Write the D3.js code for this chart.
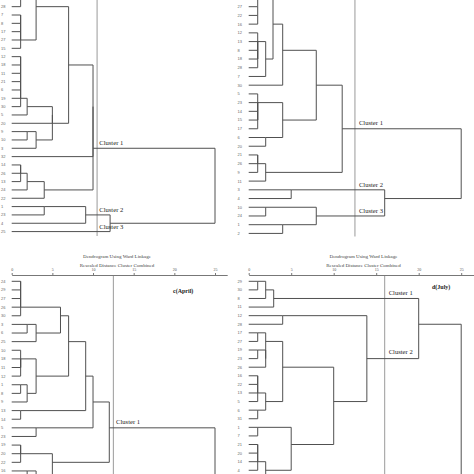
<!DOCTYPE html>
<meta charset="utf-8">
<title>Dendrogram Using Ward Linkage</title>
<style>
body { margin: 0; background: #fff; }
.link { stroke: #505050; stroke-width: 1; }
.cut { stroke: #9a9a9a; stroke-width: 1; }
.leaf { font: 4px "Liberation Sans", sans-serif; fill: #666; }
.clab { font: 6.6px "Liberation Serif", serif; fill: #222; }
.title { font: 5px "Liberation Serif", serif; fill: #444; text-anchor: middle; }
.month { font: bold 6px "Liberation Serif", serif; fill: #222; }
.axis text { font: 4px "Liberation Serif", serif; fill: #555; }
.axis path, .axis line { stroke: #777; }
</style>
<body>
<svg width="474" height="474"></svg>
<script src="https://d3js.org/d3.v7.min.js"></script>
<script>

// leaf order top to bottom; *Top is the row of the first label (rows above 0 are cropped)
var tlLabels = ["31","16","29","2","28","7","8","17","27","15","12","18","11","21","6","19","30","5","20","9","10","3","32","14","26","13","24","22","1","23","4","25"];
var tlTop = -4;
var trLabels = ["19","27","22","16","12","13","8","18","28","7","30","5","23","14","15","17","6","20","21","26","9","11","3","4","10","24","1","2"];
var trTop = -1;
var blLabels = ["24","29","27","26","30","3","6","25","10","18","11","12","1","8","9","13","14","5","23","19","20","22","16","15","2","4","7","21","28","17"];
var blTop = 0;
var brLabels = ["29","30","8","11","12","28","17","27","19","23","26","16","22","13","5","6","31","1","7","21","20","14","4","2","9","3","15","18","24","25"];
var brTop = 0;

// merges: [rescaled distance, child, child]
var tlTree = [25,
  [10,
    [10,
      [7,
        [3,
          [1.1, [1.1, [1.1, [1.1, "28", "2"], "29"], "16"], "31"],
          [1.1, [1.1, [1.1, [1.1, "7", "8"], "17"], "27"], "15"]],
        [5,
          [5, [1.9, [1.1, [1.1, [1.1, [1.1, [1.1, [1.1, "12", "18"], "11"], "21"], "6"], "19"], "30"], "5"], "20"],
          [3, [1.9, "9", "10"], "3"]]],
      "32"],
    [4, [1.9, [1.1, [1.1, "14", "26"], "13"], "24"], "22"]],
  [12.1, [9.1, [4, "1", "23"], "4"], "25"]];

var trTree = [25,
  [11,
    [7.95,
      [4,
        [2.86,
          [1.06, [1.06, [1.06, "16", "22"], "27"], "19"],
          [2, [1.06, "12", [1.06, [1.06, [1.06, "13", "8"], "18"], "28"]], "7"]],
        "30"],
      [4,
        [1.06, "5", [1.06, [1.06, [1.06, "23", "14"], "15"], "17"]],
        [2, "6", "20"]]],
    [2, [1.06, [1.06, "21", "26"], "9"], "11"]],
  [16, [5, "3", "4"], [7.95, [2, "10", "24"], [4, "1", "2"]]]];

var blTree = [25,
  [12,
    [10,
      [9.1,
        [7,
          [6,
            [1.1, [1.1, [1.1, [1.1, "24", "29"], "27"], "26"], "30"],
            [3, [1.9, "3", "6"], "25"]],
          [3,
            [1.1, "10", [1.1, [1.1, "18", "11"], "12"]],
            [1.9, [1.1, "1", "8"], "9"]]],
        [1.1, "13", "14"]],
      [3, "5", "23"]],
    [5, [1.1, [1.1, "19", "20"], "22"], [3, [1.9, "16", "15"], "2"]]],
  [16, [6, "4", "7"], [8, "21", [3, "28", "17"]]]];

var brTree = [25,
  [20,
    [2.94, [2, [1.06, "29", "30"], "8"], "11"],
    [13.9,
      [4, "12", "28"],
      [10,
        [4,
          [2, [1.06, "17", "27"], [2, [1.06, "19", "23"], "26"]],
          [2, [1.06, [1.06, [1.06, "16", "22"], "13"], "5"], [1.06, "6", "31"]]],
        [5, [1.06, "1", "7"], [2, [1.06, [1.06, [1.06, "21", "20"], "14"], "4"], [1.06, "2", "9"]]]]]],
  [15, [3, "3", "15"], [5, "18", [2, "24", "25"]]]];

var tlCut = 10.5, trCut = 12.5, blCut = 12.5, brCut = 16;
var tlClusters = ["Cluster 1", "Cluster 2", "Cluster 3"], tlClusterRows = [16.65, 24.7, 26.7];
var trClusters = ["Cluster 1", "Cluster 2", "Cluster 3"], trClusterRows = [13.62, 20.68, 23.66];
var blClusters = ["Cluster 1"], blClusterRows = [16.61];
var brClusters = ["Cluster 1", "Cluster 2"], brClusterRows = [1.54, 8.52];

var axisTicks = [0, 5, 10, 15, 20, 25];
var titleLines = ["Dendrogram Using Ward Linkage", "Rescaled Distance Cluster Combined"];

var svg = d3.select("svg");

var panels = [
  {id: "tl", labels: tlLabels, top: tlTop, tree: tlTree, cut: tlCut, clusters: tlClusters, clusterRows: tlClusterRows,
   box: [0, 0, 237, 240], x0: 11.7, x25: 215, y0: 6.67, step: 8.33, labelX: 1, cutY: [0, 236], clabDx: 2.2},
  {id: "tr", labels: trLabels, top: trTop, tree: trTree, cut: trCut, clusters: trClusters, clusterRows: trClusterRows,
   box: [237, 0, 237, 240], x0: 248.7, x25: 461.2, y0: 6.7, step: 8.72, labelX: 237.5, cutY: [0, 236.5], clabDx: 4},
  {id: "bl", labels: blLabels, top: blTop, tree: blTree, cut: blCut, clusters: blClusters, clusterRows: blClusterRows,
   box: [0, 244, 237, 230], x0: 11.7, x25: 215, y0: 281.3, step: 8.62, labelX: 1, cutY: [275, 474], clabDx: 2.7,
   axisY: 275, titleX: 117, month: "c(April)", monthXY: [173, 293]},
  {id: "br", labels: brLabels, top: brTop, tree: brTree, cut: brCut, clusters: brClusters, clusterRows: brClusterRows,
   box: [237, 244, 237, 230], x0: 248.7, x25: 461.2, y0: 281.3, step: 8.59, labelX: 237.5, cutY: [275, 474], clabDx: 4,
   axisY: 275, titleX: 363.5, month: "d(July)", monthXY: [432, 289]}
];

panels.forEach(function(p) {
  var x = d3.scaleLinear().domain([0, 25]).range([p.x0, p.x25]);
  var y = d3.scaleLinear().domain([0, 1]).range([p.y0, p.y0 + p.step]);

  svg.append("clipPath").attr("id", "clip-" + p.id)
    .append("rect")
      .attr("x", p.box[0]).attr("y", p.box[1])
      .attr("width", p.box[2]).attr("height", p.box[3]);

  var g = svg.append("g").attr("clip-path", "url(#clip-" + p.id + ")");

  var rowOf = {};
  p.labels.forEach(function(l, i) { rowOf[l] = i + p.top; });

  var segs = [];
  function layout(node) {
    if (typeof node === "string") return {row: rowOf[node], d: 0};
    var h = node[0], a = layout(node[1]), b = layout(node[2]);
    segs.push({x1: x(h), x2: x(h), y1: y(a.row), y2: y(b.row)});
    [a, b].forEach(function(c) {
      segs.push({x1: x(c.d), x2: x(h), y1: y(c.row), y2: y(c.row)});
    });
    return {row: Math.floor((a.row + b.row) / 2), d: h};
  }
  layout(p.tree);

  // cut line
  g.append("line").attr("class", "cut")
    .attr("x1", x(p.cut)).attr("x2", x(p.cut))
    .attr("y1", p.cutY[0]).attr("y2", p.cutY[1]);

  g.selectAll(".link")
    .data(segs)
    .enter().append("line")
      .attr("class", "link")
      .attr("x1", function(d) { return d.x1; })
      .attr("x2", function(d) { return d.x2; })
      .attr("y1", function(d) { return d.y1; })
      .attr("y2", function(d) { return d.y2; });

  // only the labels whose row falls inside the cropped panel
  var shown = p.labels
    .map(function(l, i) { return {label: l, row: i + p.top}; })
    .filter(function(d) { var yy = y(d.row); return yy > p.box[1] + 3 && yy < p.box[1] + p.box[3] - 3; });

  g.selectAll(".leaf")
    .data(shown)
    .enter().append("text")
      .attr("class", "leaf")
      .attr("x", p.labelX)
      .attr("y", function(d) { return y(d.row); })
      .attr("dy", "0.35em")
      .text(function(d) { return d.label; });

  g.selectAll(".clab")
    .data(p.clusters)
    .enter().append("text")
      .attr("class", "clab")
      .attr("x", x(p.cut) + p.clabDx)
      .attr("y", function(d, i) { return y(p.clusterRows[i]); })
      .text(function(d) { return d; });

  if (p.axisY) {
    var ax = x.copy().domain([0, 26.5]).range([x(0), x(26.5)]);
    g.append("g")
      .attr("class", "axis")
      .attr("transform", "translate(0," + p.axisY + ")")
      .call(d3.axisTop(ax).tickValues(axisTicks).tickSize(2).tickSizeOuter(0).tickPadding(2));

    g.selectAll(".title")
      .data(titleLines)
      .enter().append("text")
        .attr("class", "title")
        .attr("x", p.titleX)
        .attr("y", function(d, i) { return 257.5 + i * 9.5; })
        .text(function(d) { return d; });

    g.append("text").attr("class", "month")
      .attr("x", p.monthXY[0]).attr("y", p.monthXY[1])
      .text(p.month);
  }
});

</script>
</body>
